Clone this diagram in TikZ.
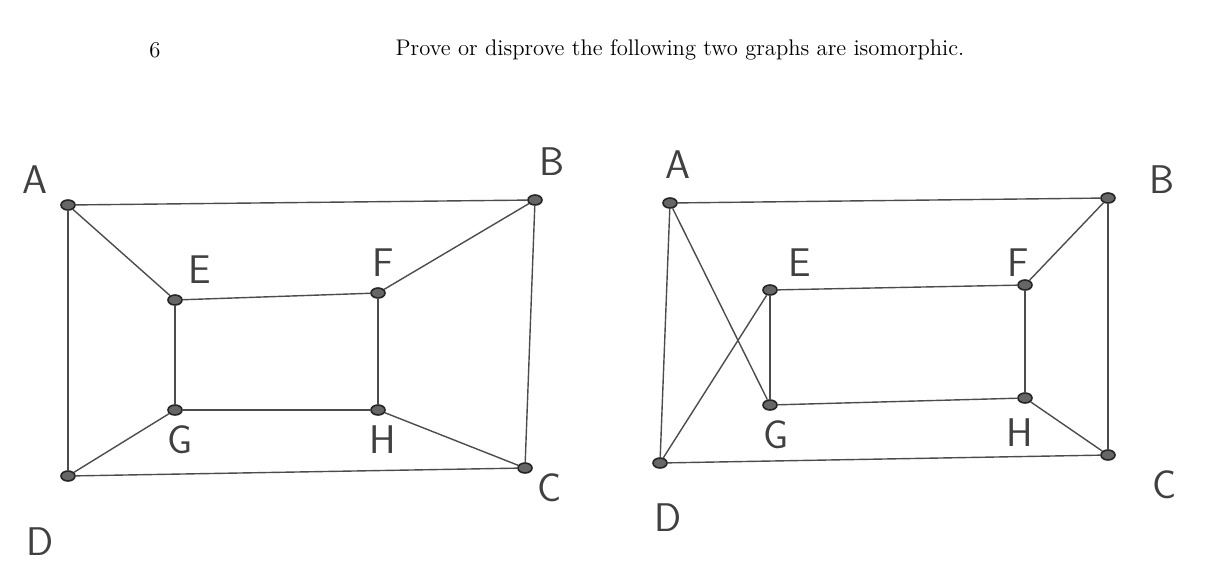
\documentclass[tikz,border=0pt]{standalone}
\usetikzlibrary{shapes.geometric}
\begin{document}
\begin{tikzpicture}[x=0.5pt,y=-0.5pt,
  vtx/.style={ellipse,draw=black!85,fill=black!60,line width=0.8pt,minimum width=7pt,minimum height=5pt,inner sep=0pt},
  edge/.style={draw=black!70,line width=0.7pt},
  lab/.style={font=\fontsize{20}{20}\sffamily,text=black!75},
  ttl/.style={font=\fontsize{11.3}{13}\selectfont}]
\useasboundingbox (0,0) rectangle (1221,569);
\node[ttl] (num) at (155,50) {6};
\node[ttl] (title) at (680,50) {Prove or disprove the following two graphs are isomorphic.};
% left graph
\node[vtx] (A) at (68,205) {};
\node[vtx] (B) at (535,200) {};
\node[vtx] (C) at (525,468) {};
\node[vtx] (D) at (68,476) {};
\node[vtx] (E) at (175,300) {};
\node[vtx] (F) at (378,293) {};
\node[vtx] (G) at (175,410) {};
\node[vtx] (H) at (378,410) {};
\foreach \u/\v in {A/B,A/D,A/E,B/C,B/F,E/F,E/G,F/H,G/H,G/D,H/C,D/C}
  \draw[edge] (\u) -- (\v);
\node[lab] (lA) at (35,180) {A};
\node[lab] (lB) at (552,162) {B};
\node[lab] (lC) at (550,488) {C};
\node[lab] (lD) at (40,542) {D};
\node[lab] (lE) at (200,270) {E};
\node[lab] (lF) at (383,263) {F};
\node[lab] (lG) at (180,440) {G};
\node[lab] (lH) at (383,440) {H};
% right graph
\node[vtx] (A2) at (670,203) {};
\node[vtx] (B2) at (1108,198) {};
\node[vtx] (C2) at (1108,455) {};
\node[vtx] (D2) at (660,463) {};
\node[vtx] (E2) at (770,290) {};
\node[vtx] (F2) at (1025,285) {};
\node[vtx] (G2) at (770,405) {};
\node[vtx] (H2) at (1025,398) {};
\foreach \u/\v in {A2/B2,A2/D2,A2/G2,B2/C2,B2/F2,E2/F2,E2/G2,E2/D2,F2/H2,G2/H2,H2/C2,D2/C2}
  \draw[edge] (\u) -- (\v);
\node[lab] (lA2) at (678,165) {A};
\node[lab] (lB2) at (1162,180) {B};
\node[lab] (lC2) at (1165,485) {C};
\node[lab] (lD2) at (668,518) {D};
\node[lab] (lE2) at (800,263) {E};
\node[lab] (lF2) at (1018,263) {F};
\node[lab] (lG2) at (776,435) {G};
\node[lab] (lH2) at (1020,433) {H};
\end{tikzpicture}
\end{document}
